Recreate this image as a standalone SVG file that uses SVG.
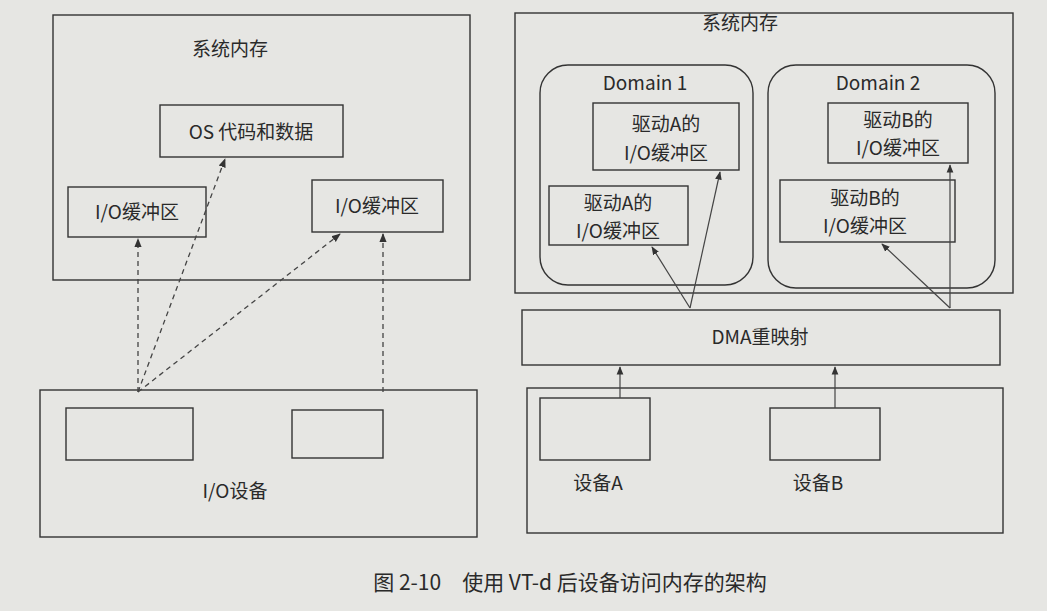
<svg xmlns="http://www.w3.org/2000/svg" width="1047" height="611" viewBox="0 0 1047 611">
<defs>
<marker id="ah" viewBox="0 0 10 10" refX="9" refY="5" markerWidth="7" markerHeight="7" orient="auto-start-reverse"><path d="M0,1 L10,5 L0,9 z" fill="#333"/></marker>
<style>
.b{fill:none;stroke:#333;stroke-width:1.4}
.t{font-family:"Noto Sans CJK SC","Noto Sans",sans-serif;font-size:19px;fill:#2a2a2a;text-anchor:middle}
.d{fill:none;stroke:#444;stroke-width:1.3;stroke-dasharray:5,4}
.s{fill:none;stroke:#444;stroke-width:1.2}
</style>
</defs>
<rect width="1047" height="611" fill="#e6e6e3"/>
<g id="left-mem"><rect class="b" x="53" y="15" width="417" height="265"/><text class="t" x="230" y="56" font-size="17">系统内存</text></g>
<g id="os"><rect class="b" x="160" y="105" width="183" height="52"/><text class="t" x="251" y="139">OS 代码和数据</text></g>
<g id="lbuf1"><rect class="b" x="68" y="187" width="138" height="50"/><text class="t" x="137" y="219">I/O缓冲区</text></g>
<g id="lbuf2"><rect class="b" x="312" y="180" width="131" height="52"/><text class="t" x="377" y="213">I/O缓冲区</text></g>
<g id="ldev"><rect class="b" x="40" y="390" width="437" height="147"/><rect class="b" x="66" y="408" width="127" height="52"/><rect class="b" x="292" y="410" width="91" height="48"/><text class="t" x="235" y="498">I/O设备</text></g>
<g id="right-mem"><rect class="b" x="515" y="13" width="498" height="280"/><text class="t" x="740" y="26" font-size="17" dy="4">系统内存</text></g>
<g id="dom1"><rect class="b" x="540" y="65" width="213" height="220" rx="28"/><text class="t" x="645" y="90" font-size="18">Domain 1</text></g>
<g id="dom2"><rect class="b" x="768" y="65" width="227" height="223" rx="28"/><text class="t" x="878" y="90" font-size="18">Domain 2</text></g>
<g id="a1"><rect class="b" x="593" y="103" width="146" height="67"/><text class="t" x="666" y="131">驱动A的</text><text class="t" x="666" y="160">I/O缓冲区</text></g>
<g id="a2"><rect class="b" x="549" y="186" width="139" height="59"/><text class="t" x="618" y="210">驱动A的</text><text class="t" x="618" y="238">I/O缓冲区</text></g>
<g id="b1"><rect class="b" x="828" y="103" width="140" height="60"/><text class="t" x="898" y="127">驱动B的</text><text class="t" x="898" y="155">I/O缓冲区</text></g>
<g id="b2"><rect class="b" x="780" y="180" width="175" height="62"/><text class="t" x="865" y="205">驱动B的</text><text class="t" x="865" y="233">I/O缓冲区</text></g>
<g id="dma"><rect class="b" x="522" y="310" width="478" height="55"/><text class="t" x="760" y="344">DMA重映射</text></g>
<g id="rdev"><rect class="b" x="527" y="388" width="476" height="145"/><rect class="b" x="540" y="398" width="110" height="62"/><rect class="b" x="770" y="408" width="110" height="52"/><text class="t" x="598" y="490">设备A</text><text class="t" x="818" y="490">设备B</text></g>
<g id="connectors">
<path class="d" d="M138,392 L138,239" marker-end="url(#ah)"/>
<path class="d" d="M138,392 L225,159" marker-end="url(#ah)"/>
<path class="d" d="M138,392 L340,234" marker-end="url(#ah)"/>
<path class="d" d="M383,392 L383,234" marker-end="url(#ah)"/>
<path class="s" d="M690,308 L652,247" marker-end="url(#ah)"/>
<path class="s" d="M690,308 L720,172" marker-end="url(#ah)"/>
<path class="s" d="M950,308 L882,244" marker-end="url(#ah)"/>
<path class="s" d="M950,308 L950,165" marker-end="url(#ah)"/>
<path class="s" d="M620,398 L620,367" marker-end="url(#ah)"/>
<path class="s" d="M835,408 L835,367" marker-end="url(#ah)"/>
</g>
<text x="570" y="590" font-family="'Noto Sans CJK SC','Liberation Serif',serif" font-size="21" fill="#2a2a2a" text-anchor="middle">图 2-10　使用 VT-d 后设备访问内存的架构</text>
</svg>
